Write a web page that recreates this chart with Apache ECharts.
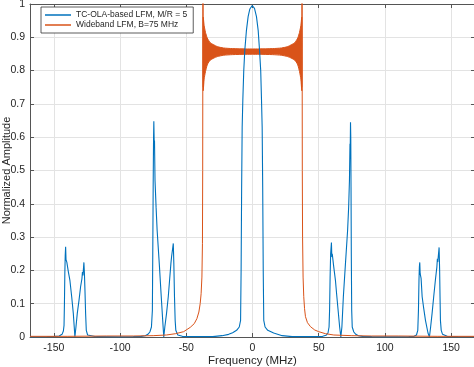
<!DOCTYPE html>
<html><head><meta charset="utf-8">
<script src="https://cdn.jsdelivr.net/npm/echarts@6/dist/echarts.min.js"></script>
<style>html,body{margin:0;padding:0;background:#fff}#c{width:474px;height:367px}</style>
</head><body><div id="c"></div>
<script>
const xTicks = [-150, -100, -50, 0, 50, 100, 150];
const blueName = 'TC-OLA-based LFM, M/R = 5';
const orangeName = 'Wideband LFM, B=75 MHz';

const blueFreq = [-168,-155,-149,-146,-144.9,-143.8,-142.8,-142.3,-142.0,-141.7,-141.4,-141.1,-140.8,-140.5,-140.2,-139.0,-137.9,-136.5,-135.3,-134.6,-134.1,-133.3,-132.3,-131.0,-129.8,-128.8,-128.4,-128.0,-127.3,-126.9,-126.5,-126.0,-125.5,-124.5,-123.5,-118,-100,
  -90,-84,-81,-79,-77.5,-76.3,-75.6,-75.3,-75.0,-74.7,-74.5,-74.2,-74.0,-73.6,-72.8,-72.0,-70.4,-68.9,-67.8,-67.0,-66.2,-64.9,-63.6,-62.6,-61.6,-61.1,-60.7,-59.8,-59.4,-58.9,-58.4,-57.9,-56.4,-53,-45,
  -30,-23,-18,-15,-12,-10,-9,-8.6,-8.2,-7.8,-7.3,-6.6,-5.8,-4.6,-3.3,-2.0,-0.2,1.5,3.0,4.3,5.3,6.2,6.8,7.3,7.7,8.1,8.5,9.5,11.5,16,22.4,30,
  45,53,55.5,57.0,57.8,58.2,58.6,59.0,59.6,59.9,60.2,60.5,61.2,62.6,63.5,64.4,65.8,66.7,67.5,68.6,70.2,71.8,72.6,73.2,73.6,73.8,74.0,74.2,74.4,74.6,74.9,75.3,76.5,78,80,83,90,
  100,118,122,123.8,124.8,125.3,125.7,126.0,126.3,126.6,126.9,127.3,128.1,129.3,130.6,132.5,133.6,134.5,135.6,136.8,138.1,139.2,139.6,139.9,140.9,141.3,141.6,141.9,142.5,143.5,144.4,147,155,168];
const blueAmp = [0.0005,0.001,0.002,0.003,0.004,0.008,0.018,0.035,0.1,0.19,0.245,0.271,0.232,0.236,0.225,0.195,0.171,0.12,0.071,0.03,0.0,0.03,0.071,0.11,0.151,0.175,0.195,0.185,0.224,0.19,0.14,0.07,0.02,0.006,0.003,0.001,0.0005,
  0.001,0.002,0.004,0.008,0.015,0.03,0.08,0.25,0.45,0.6,0.648,0.58,0.59,0.47,0.39,0.32,0.221,0.121,0.05,0.0,0.03,0.071,0.121,0.171,0.221,0.241,0.235,0.281,0.221,0.121,0.05,0.02,0.006,0.002,0.001,
  0.001,0.004,0.008,0.013,0.02,0.03,0.05,0.2,0.45,0.63,0.712,0.8,0.862,0.92,0.962,0.985,0.995,0.987,0.962,0.92,0.862,0.8,0.712,0.63,0.45,0.2,0.05,0.03,0.02,0.012,0.004,0.001,
  0.001,0.002,0.005,0.012,0.03,0.08,0.18,0.25,0.284,0.24,0.25,0.24,0.215,0.171,0.13,0.091,0.03,0.0,0.03,0.121,0.221,0.32,0.39,0.47,0.58,0.57,0.645,0.6,0.45,0.25,0.08,0.03,0.015,0.008,0.004,0.002,0.001,
  0.0005,0.001,0.002,0.006,0.02,0.08,0.17,0.21,0.224,0.19,0.195,0.176,0.121,0.085,0.05,0.012,0.0,0.03,0.071,0.12,0.171,0.21,0.235,0.225,0.269,0.2,0.12,0.05,0.02,0.008,0.004,0.002,0.001,0.0005];

const orangeLeftFreq = [-168,-140,-110,-90,-75,-65,-58,-52,-47,-44,-42,-40.5,-39.5,-38.8,-38.2,-37.8,-37.6,-37.4,-37.25];
const orangeLeftAmp  = [0.002,0.002,0.003,0.003,0.004,0.006,0.01,0.016,0.029,0.04,0.055,0.075,0.1,0.13,0.18,0.28,0.5,1.2,0.75];
const orangeRightFreq = [37.25,37.4,37.6,37.8,38.2,38.7,39.3,40,41.5,43.8,47,50,55,61.4,75,90,110,140,168];
const orangeRightAmp  = [0.75,1.2,0.5,0.3,0.18,0.121,0.085,0.061,0.043,0.031,0.021,0.016,0.01,0.006,0.004,0.003,0.003,0.002,0.002];

const bandFreq  = [-37.2,-36.5,-35.5,-34.2,-33,-31.7,-29,-26.6,-22,-15,-5,0,5,15,22,26.6,29,31.7,33,34.2,35.5,36.5,37.2];
const bandUpper = [0.96,0.935,0.915,0.898,0.89,0.883,0.877,0.872,0.868,0.866,0.865,0.865,0.865,0.866,0.868,0.872,0.877,0.883,0.89,0.898,0.915,0.935,0.96];
const bandLower = [0.74,0.775,0.797,0.817,0.826,0.832,0.838,0.842,0.846,0.848,0.849,0.849,0.849,0.848,0.846,0.842,0.838,0.832,0.826,0.817,0.797,0.775,0.74];

const BLUE = '#0072BD', ORANGE = '#D95319';
const FONT = '"Liberation Sans", Arial, Helvetica, sans-serif';
const AXC = '#555555', TXT = '#262626', GRIDC = '#e3e3e3';
const pair = (xs, ys) => xs.map((x, i) => [x, ys[i]]);

const chart = echarts.init(document.getElementById('c'), null, { renderer: 'canvas' });
const baseX = {
  type: 'value', min: -168, max: 168,
  axisLine: { show: true, onZero: false, lineStyle: { color: AXC, width: 1 } },
  axisTick: { show: true, inside: true, length: 4, customValues: xTicks, lineStyle: { color: AXC } },
};
const baseY = {
  type: 'value', min: 0, max: 1, interval: 0.1,
  axisLine: { show: true, onZero: false, lineStyle: { color: AXC, width: 1 } },
  axisTick: { show: true, inside: true, length: 4, lineStyle: { color: AXC } },
};
// band between the upper and lower ripple envelopes of the wideband LFM spectrum
function renderBand(params, api) {
  if (params.dataIndex !== 0) return null;
  const pts = [];
  for (let i = 0; i < bandFreq.length; i++) pts.push(api.coord([bandFreq[i], bandUpper[i]]));
  for (let i = bandFreq.length - 1; i >= 0; i--) pts.push(api.coord([bandFreq[i], bandLower[i]]));
  return {
    type: 'polygon',
    shape: { points: pts, smooth: 0.2 },
    style: { fill: ORANGE, stroke: ORANGE, lineWidth: 1 }
  };
}
chart.setOption({
  animation: false,
  grid: { left: 30, top: 4, width: 445, height: 333, containLabel: false, outerBoundsMode: 'none' },
  legend: {
    left: 41, top: 7, orient: 'vertical', selectedMode: false,
    data: [blueName, orangeName],
    icon: 'rect', itemWidth: 26, itemHeight: 1.5, itemGap: 0,
    padding: [3, 6, 3, 4],
    backgroundColor: '#fff', borderColor: '#333', borderWidth: 0.8,
    textStyle: { fontFamily: FONT, fontSize: 8.5, color: TXT, lineHeight: 10 }
  },
  xAxis: [
    Object.assign({}, baseX, {
      position: 'bottom',
      axisLabel: { customValues: xTicks, color: TXT, fontSize: 10.5, fontFamily: FONT, margin: 6 },
      splitLine: { show: true, lineStyle: { color: GRIDC, width: 1 } },
      name: 'Frequency (MHz)', nameLocation: 'middle', nameGap: 24, nameMoveOverlap: false,
      nameTextStyle: { fontFamily: FONT, fontSize: 11.5, color: TXT, verticalAlign: 'middle' }
    }),
    Object.assign({}, baseX, { position: 'top', axisLabel: { show: false }, splitLine: { show: false } })
  ],
  yAxis: [
    Object.assign({}, baseY, {
      position: 'left',
      axisLabel: { color: TXT, fontSize: 10.5, fontFamily: FONT, margin: 5 },
      splitLine: { show: true, lineStyle: { color: GRIDC, width: 1 } },
      name: 'Normalized Amplitude', nameLocation: 'middle', nameGap: 23, nameMoveOverlap: false,
      nameTextStyle: { fontFamily: FONT, fontSize: 11, color: TXT, verticalAlign: 'middle' }
    }),
    Object.assign({}, baseY, { position: 'right', axisLabel: { show: false }, splitLine: { show: false } })
  ],
  series: [
    { name: orangeName, type: 'line', color: ORANGE, data: pair(orangeLeftFreq, orangeLeftAmp),
      showSymbol: false, symbol: 'none', lineStyle: { color: ORANGE, width: 1 }, z: 4 },
    { name: orangeName, type: 'line', color: ORANGE, data: pair(orangeRightFreq, orangeRightAmp),
      showSymbol: false, symbol: 'none', lineStyle: { color: ORANGE, width: 1 }, z: 4 },
    { name: orangeName, type: 'custom', color: ORANGE, renderItem: renderBand, clip: true,
      data: pair(bandFreq, bandUpper), encode: { x: 0, y: 1 }, z: 2 },
    { name: blueName, type: 'line', color: BLUE, data: pair(blueFreq, blueAmp),
      showSymbol: false, symbol: 'none', lineStyle: { color: BLUE, width: 1.1 }, z: 3 }
  ]
});
</script>
</body></html>
